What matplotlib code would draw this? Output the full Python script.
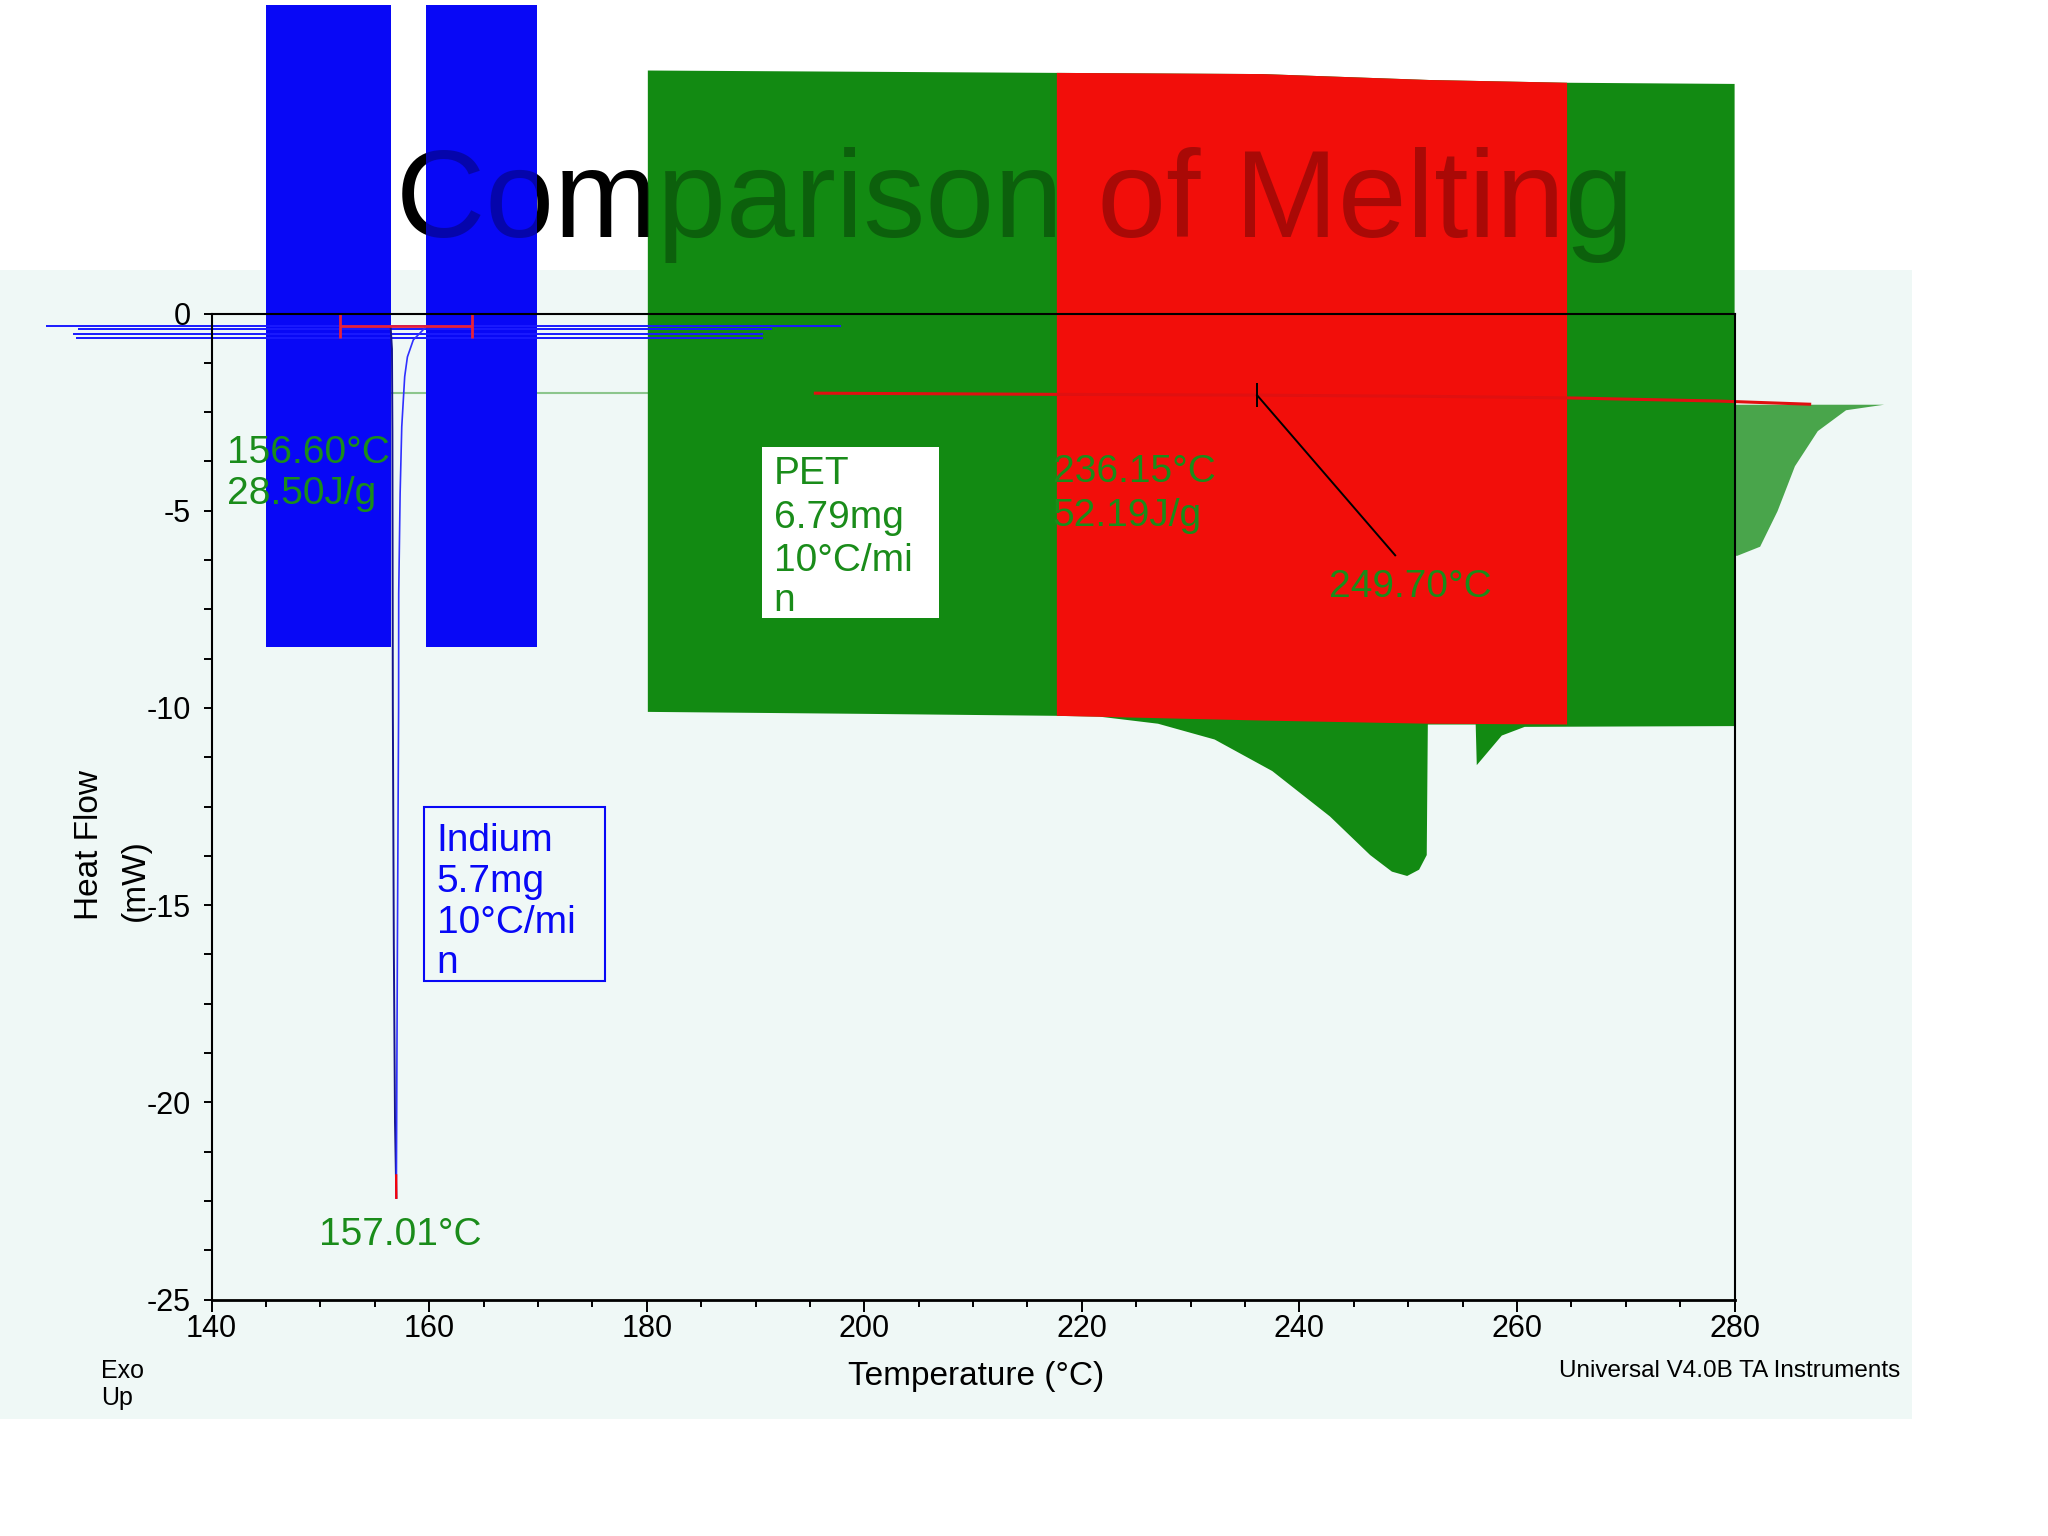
import numpy as np
import matplotlib
matplotlib.use('Agg')
import matplotlib.pyplot as plt
from matplotlib.patches import Rectangle
from matplotlib.ticker import MultipleLocator

plt.rcParams['font.family'] = ['Liberation Sans', 'DejaVu Sans']
plt.rcParams['axes.unicode_minus'] = False

# ---- indium run (blue) ----
indium_down_temp = [156.46, 156.58, 156.62, 156.66, 156.75, 156.86, 156.98]
indium_down_flow = [-0.35, -0.9, -3.0, -10.0, -16.0, -20.5, -22.42]
indium_up_temp = [156.98, 157.08, 157.19, 157.2, 157.33, 157.48, 157.75, 158.0, 158.54, 159.6]
indium_up_flow = [-22.42, -16.0, -10.0, -7.1, -4.56, -2.87, -1.6, -1.1, -0.67, -0.37]
indium_tip_temp = [156.97, 156.98]
indium_tip_flow = [-21.85, -22.42]

ghost_flow = [-0.31, -0.39, -0.53, -0.63]
ghost_start = [124.8, 127.7, 127.3, 127.5]
ghost_end = [197.9, 191.5, 190.7, 190.7]

indium_limits = [151.84, 163.9]
indium_limit_flow = -0.31

blue_band_start = [145.0, 159.68]
blue_band_end = [156.46, 169.94]
blue_band_top = 7.82
blue_band_bottom = -8.46

# ---- PET run (green / red) ----
pet_band_temp = [180.1, 199.0, 217.7, 236.6, 251.9, 264.6, 280.0]
pet_band_top = [6.16, 6.13, 6.10, 6.07, 5.92, 5.85, 5.82]
pet_low_temp = [180.1, 200.0, 217.7, 221.6, 227.0, 232.2, 237.5, 242.8, 246.5, 248.5,
                249.9, 251.0, 251.7, 251.8, 256.2, 256.3, 258.6, 260.7, 270.0, 280.0]
pet_low_flow = [-10.10, -10.15, -10.20, -10.22, -10.40, -10.80, -11.60, -12.75, -13.73, -14.15,
                -14.26, -14.10, -13.73, -10.42, -10.42, -11.45, -10.70, -10.48, -10.47, -10.46]
red_band_temp = [217.7, 236.6, 251.9, 264.6]
red_band_top = [6.10, 6.07, 5.92, 5.85]
red_band_bottom = [-10.20, -10.32, -10.40, -10.42]

pet_tail_temp = [280.2, 282.3, 283.9, 285.5, 287.6, 290.2, 293.7]
pet_tail_flow = [-6.13, -5.9, -5.0, -3.86, -2.97, -2.44, -2.30]

pet_base_temp = [156.6, 280.0]
pet_base_flow = [-2.01, -2.01]
red_base_temp = [195.5, 217.7, 236.1, 251.9, 264.6, 278.6, 286.9]
red_base_flow = [-2.02, -2.05, -2.07, -2.10, -2.14, -2.22, -2.30]

onset_temp = 236.1
onset_tick_flow = [-1.76, -2.37]
leader_temp = [236.1, 248.8]
leader_flow = [-2.07, -6.13]

# ---- labels ----
indium_result = ['156.60°C', '28.50J/g']
indium_result_pos = (141.4, [-3.80, -4.84])
indium_peak = '157.01°C'
indium_peak_pos = (149.9, -23.62)
pet_result = ['236.15°C', '52.19J/g']
pet_result_pos = (217.3, [-4.26, -5.40])
pet_peak = '249.70°C'
pet_peak_pos = (242.7, -7.20)
pet_info = ['PET', '6.79mg', '10°C/mi', 'n']
pet_info_pos = (191.67, [-4.33, -5.44, -6.52, -7.55])
indium_info = ['Indium', '5.7mg', '10°C/mi', 'n']
indium_info_pos = (160.68, [-13.63, -14.67, -15.71, -16.73])

BLUE = '#0808f6'
GREEN = '#128a12'
RED = '#f20e0a'
TXT_GREEN = '#1a8c1a'
PANEL = '#eff8f6'

W, H = 2048, 1536
fig = plt.figure(figsize=(W / 100, H / 100), dpi=100, facecolor='white')
fig.patches.append(Rectangle((0, 1 - 1419 / H), 1912 / W, (1419 - 270) / H,
                             transform=fig.transFigure, facecolor=PANEL,
                             edgecolor='none', zorder=-1))

ax = fig.add_axes([211.6 / W, 1 - 1299.6 / H, (1734.6 - 211.6) / W, (1299.6 - 313.5) / H])
ax.set_facecolor('none')
ax.set_xlim(140, 280)
ax.set_ylim(-25, 0)

# title (drawn under the bands, then a faint copy clipped to the bands)
title = 'Comparison of Melting'
title_xy = (396 / W, 1 - 236.7 / H)
ax.text(*title_xy, title, transform=fig.transFigure, fontsize=89, ha='left',
        va='baseline', color='black', zorder=0.5, clip_on=False)

# artefact bands
bars = ax.bar(blue_band_start, blue_band_top - blue_band_bottom,
              width=np.subtract(blue_band_end, blue_band_start),
              bottom=blue_band_bottom, align='edge', color=BLUE, linewidth=0,
              zorder=1, clip_on=False)
ax.fill(pet_band_temp + pet_low_temp[::-1], pet_band_top + pet_low_flow[::-1],
        color=GREEN, linewidth=0, zorder=1, clip_on=False)
ax.fill(red_band_temp + red_band_temp[::-1], red_band_top + red_band_bottom[::-1],
        color=RED, linewidth=0, zorder=1.1, clip_on=False)
ax.fill_betweenx(pet_tail_flow, 280, pet_tail_temp, color=GREEN, alpha=0.75,
                 linewidth=0, zorder=1, clip_on=False)

green_box = Rectangle((pet_band_temp[0], pet_low_flow[0]),
                      pet_band_temp[-1] - pet_band_temp[0],
                      min(pet_band_top) - pet_low_flow[0], transform=ax.transData)
for clip in [bars.patches[1], green_box]:
    t = ax.text(*title_xy, title, transform=fig.transFigure, fontsize=89, ha='left',
                va='baseline', color='black', alpha=0.3, zorder=1.5)
    t.set_clip_path(clip)
    t.set_clip_on(True)

# curves and baselines
ax.hlines(ghost_flow, ghost_start, ghost_end, colors='#1a1aff', linewidth=1.4,
          zorder=2, clip_on=False)
ax.plot(pet_base_temp, pet_base_flow, color='#8cc68c', linewidth=1.5, zorder=0.9)
ax.plot(red_base_temp, red_base_flow, color='#e01010', linewidth=2.2, zorder=2,
        clip_on=False)
ax.plot(indium_down_temp, indium_down_flow, color='#14148c', linewidth=1.4, zorder=2)
ax.plot(indium_up_temp, indium_up_flow, color='#3030ff', linewidth=1.2, zorder=2)
ax.plot(indium_tip_temp, indium_tip_flow, color='red', linewidth=1.6, zorder=2.1)
ax.hlines(indium_limit_flow, *indium_limits, colors='#e8203a', linewidth=2, zorder=2.2)
ax.vlines(indium_limits, -0.62, 0.01, colors='#e8203a', linewidth=2, zorder=2.2,
          clip_on=False)
ax.vlines(onset_temp, *onset_tick_flow, colors='black', linewidth=1.4, zorder=2.2)
ax.plot(leader_temp, leader_flow, color='black', linewidth=1.4, zorder=2.2)

# boxes
ax.add_patch(Rectangle((190.6, -7.72), 16.3, 4.34, facecolor='white',
                       edgecolor='none', zorder=3))
ax.add_patch(Rectangle((159.57, -16.92), 16.56, 4.41, facecolor='none',
                       edgecolor=BLUE, linewidth=1.5, zorder=3))

# annotation texts
fs = 28
for s, y in zip(indium_result, indium_result_pos[1]):
    ax.text(indium_result_pos[0], y, s, fontsize=fs, color=TXT_GREEN, va='baseline', zorder=4)
for s, y in zip(pet_result, pet_result_pos[1]):
    ax.text(pet_result_pos[0], y, s, fontsize=fs, color=TXT_GREEN, va='baseline', zorder=4)
for s, y in zip(pet_info, pet_info_pos[1]):
    ax.text(pet_info_pos[0], y, s, fontsize=fs, color=TXT_GREEN, va='baseline', zorder=4)
for s, y in zip(indium_info, indium_info_pos[1]):
    ax.text(indium_info_pos[0], y, s, fontsize=fs, color=BLUE, va='baseline', zorder=4)
ax.text(*indium_peak_pos, indium_peak, fontsize=fs, color=TXT_GREEN, va='baseline', zorder=4)
ax.text(*pet_peak_pos, pet_peak, fontsize=fs, color=TXT_GREEN, va='baseline', zorder=4)

# axes styling
for sp in ax.spines.values():
    sp.set_linewidth(1.5)
    sp.set_zorder(2.5)
ax.spines['bottom'].set_linewidth(2)
ax.xaxis.set_major_locator(MultipleLocator(20))
ax.xaxis.set_minor_locator(MultipleLocator(5))
ax.yaxis.set_major_locator(MultipleLocator(5))
ax.yaxis.set_minor_locator(MultipleLocator(1.25))
ax.tick_params(axis='x', which='major', direction='out', length=8.6, width=1.4,
               labelsize=22, pad=2)
ax.tick_params(axis='x', which='minor', direction='out', length=5, width=1.4)
ax.tick_params(axis='y', which='both', direction='out', length=6, width=1.4,
               labelsize=22, pad=9)

fig.text(976 / W, 1 - 1385 / H, 'Temperature (°C)', fontsize=24, ha='center', va='baseline')
fig.text(89 / W, 1 - 845 / H, 'Heat Flow', fontsize=24, rotation=90, ha='center', va='center')
fig.text(135 / W, 1 - 880 / H, '(mW)', fontsize=24, rotation=90, ha='center', va='center')
fig.text(101 / W, 1 - 1378 / H, 'Exo', fontsize=18, va='baseline')
fig.text(101 / W, 1 - 1405 / H, 'Up', fontsize=18, va='baseline')
fig.text(1900 / W, 1 - 1377 / H, 'Universal V4.0B TA Instruments', fontsize=17.5,
         ha='right', va='baseline')

fig.savefig('out.png', dpi=100)
